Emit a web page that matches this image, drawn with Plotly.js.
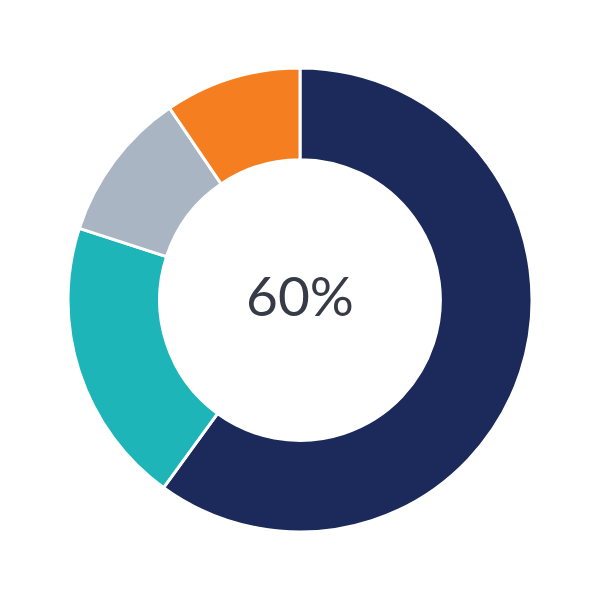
<!DOCTYPE html>
<html>
<head>
<meta charset="utf-8">
<script src="https://cdn.plot.ly/plotly-3.0.1.min.js"></script>
<style>html,body{margin:0;padding:0;background:#fff;}#chart{width:600px;height:600px;}</style>
</head>
<body>
<div id="chart"></div>
<script>
const labels = ["Navy", "Teal", "Gray", "Orange"];
const values = [60, 20, 10.5, 9.5];
const colors = ["#1b2a5a", "#1db5b8", "#aab5c3", "#f47e20"];
const centerText = "60%";

Plotly.newPlot("chart", [{
  type: "pie",
  labels: labels,
  values: values,
  hole: 0.605,
  sort: false,
  direction: "clockwise",
  rotation: 0,
  textinfo: "none",
  hoverinfo: "none",
  marker: {colors: colors, line: {color: "#ffffff", width: 3}}
}], {
  width: 600,
  height: 600,
  margin: {l: 68, r: 68, t: 68, b: 68},
  showlegend: false,
  paper_bgcolor: "#ffffff",
  annotations: [{
    text: centerText,
    x: 0.5, y: 0.51, xref: "paper", yref: "paper",
    showarrow: false,
    font: {family: "Lato", size: 55, color: "#363b47", weight: 400}
  }]
}, {staticPlot: true});
</script>
</body>
</html>
